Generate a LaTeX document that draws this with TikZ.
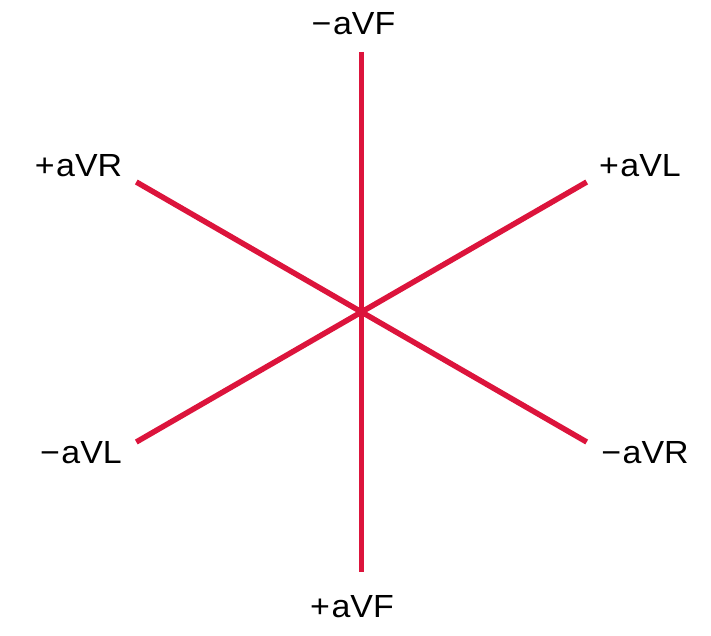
\documentclass[tikz,border=0pt]{standalone}
\usepackage{fontspec}
\newfontfamily\leadfont[FakeStretch=1.06]{Liberation Sans}
\usepackage{tikz}
\definecolor{leadred}{RGB}{220,20,60}

\begin{document}
\begin{tikzpicture}[x=1pt, y=-1pt,
  lead/.style={line width=5.5pt, leadred},
  lbl/.style={font=\fontsize{32}{38}\leadfont, inner sep=0pt, anchor=base}]
\useasboundingbox (0,0) rectangle (711,636);
\coordinate (c) at (361.5,312);
\coordinate (vfm) at (361.5,52);
\coordinate (vfp) at (361.5,572);
\coordinate (vrp) at (136.3,182);
\coordinate (vrm) at (586.7,442);
\coordinate (vlp) at (586.7,182);
\coordinate (vlm) at (136.3,442);
\draw[lead] (vfm) -- (vfp);
\draw[lead] (vrp) -- (vrm);
\draw[lead] (vlm) -- (vlp);
\node[lbl] (tvfm) at (353.5,35) {−\kern1.5pt aVF};
\node[lbl] (tvfp) at (352,617) {+\kern1.5pt aVF};
\node[lbl] (tvrp) at (78.5,177) {+\kern1.5pt aVR};
\node[lbl] (tvlp) at (640,177) {+\kern1.5pt aVL};
\node[lbl] (tvlm) at (81,463) {−\kern1.5pt aVL};
\node[lbl] (tvrm) at (645,463) {−\kern1.5pt aVR};
\end{tikzpicture}
\end{document}
